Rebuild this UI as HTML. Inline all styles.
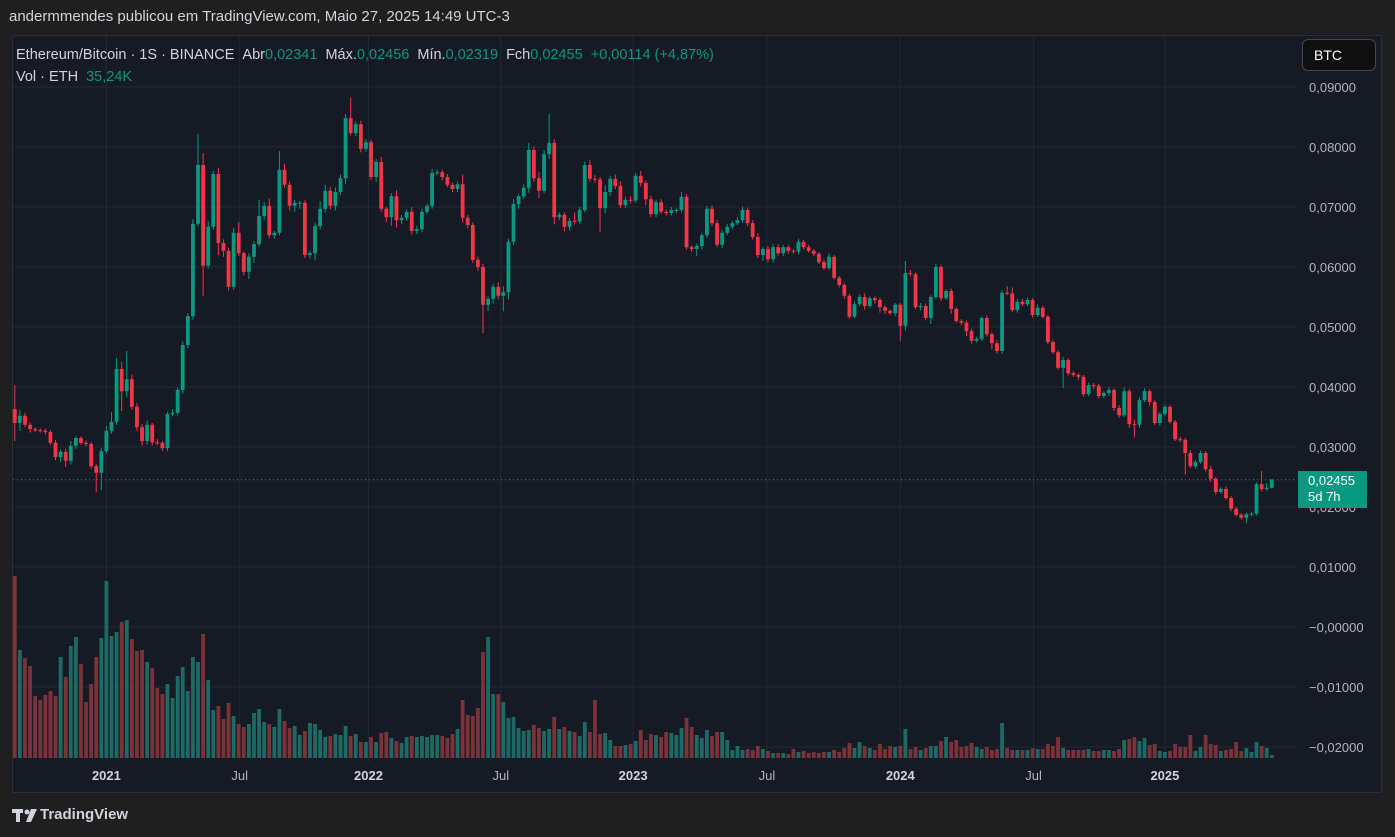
<!DOCTYPE html>
<html><head><meta charset="utf-8">
<style>
html,body{margin:0;padding:0;background:#1f1f1f;width:1395px;height:837px;overflow:hidden;font-family:"Liberation Sans",sans-serif;}
#hdr{position:absolute;left:9px;top:8px;color:#d1d4dc;font-size:15px;}
#panel{position:absolute;left:12px;top:35px;width:1370px;height:758px;background:#161a25;border:1px solid #2a2e39;box-sizing:border-box;}
#legend{position:absolute;left:16px;top:44px;font-size:14.5px;color:#d1d4dc;line-height:22px;}
#legend .v{color:#089981;}
#btc{position:absolute;left:1302px;top:39px;width:74px;height:32px;background:#0f0f0f;border:1px solid #434651;border-radius:6px;box-sizing:border-box;color:#fff;font-size:14px;line-height:30px;padding-left:11px;}
#tag{position:absolute;left:1298px;top:471px;width:69px;height:37px;background:#089981;color:#fff;font-size:13px;line-height:16px;padding:2px 0 0 10px;box-sizing:border-box;}
#foot{position:absolute;left:12px;top:806px;color:#d1d4dc;font-size:15px;font-weight:bold;}
svg{position:absolute;left:0;top:0;}
</style></head>
<body>
<div id="hdr">andermmendes publicou em TradingView.com, Maio 27, 2025 14:49 UTC-3</div>
<div id="panel"></div>
<svg id="chart" width="1395" height="837"></svg>
<div id="legend">
<div>Ethereum/Bitcoin · 1S · BINANCE &nbsp;Abr<span class="v">0,02341</span> &nbsp;Máx.<span class="v">0,02456</span> &nbsp;Mín.<span class="v">0,02319</span> &nbsp;Fch<span class="v">0,02455 &nbsp;+0,00114 (+4,87%)</span></div>
<div>Vol · ETH &nbsp;<span class="v">35,24K</span></div>
</div>
<div id="btc">BTC</div>
<div id="tag">0,02455<br>5d 7h</div>
<div id="foot">
<svg width="26" height="16" style="position:absolute;left:0;top:2px"><rect x="0" y="1" width="11" height="4" fill="#d1d4dc"/><rect x="4" y="1" width="4" height="13" fill="#d1d4dc"/><circle cx="15" cy="4" r="2.5" fill="#d1d4dc"/><polygon points="19,1 25,1 19,14 14,14" fill="#d1d4dc"/></svg>
<span style="position:absolute;left:28px;top:0;white-space:nowrap">TradingView</span></div>
<script>
const closes=[
0.0340,0.0352,0.0337,0.0330,0.0328,0.0327,0.0325,0.0307,0.0283,0.0292,
0.0277,0.0302,0.0315,0.0307,0.0305,0.0268,0.0257,0.0293,0.0327,0.0342,
0.0430,0.0393,0.0413,0.0367,0.0333,0.0310,0.0337,0.0308,0.0307,0.0298,
0.0355,0.0357,0.0395,0.0470,0.0518,0.0672,0.0770,0.0602,0.0667,0.0755,
0.0640,0.0627,0.0567,0.0657,0.0623,0.0592,0.0617,0.0638,0.0685,0.0702,
0.0653,0.0657,0.0762,0.0737,0.0702,0.0707,0.0707,0.0620,0.0623,0.0668,
0.0697,0.0727,0.0702,0.0725,0.0748,0.0848,0.0823,0.0838,0.0797,0.0808,
0.0750,0.0775,0.0697,0.0683,0.0718,0.0678,0.0682,0.0692,0.0660,0.0663,
0.0692,0.0702,0.0757,0.0758,0.0750,0.0737,0.0730,0.0738,0.0682,0.0670,
0.0612,0.0600,0.0537,0.0547,0.0567,0.0552,0.0558,0.0642,0.0705,0.0718,
0.0732,0.0795,0.0748,0.0727,0.0788,0.0807,0.0683,0.0687,0.0667,0.0677,
0.0676,0.0695,0.0770,0.0747,0.0746,0.0698,0.0725,0.0747,0.0735,0.0703,
0.0712,0.0711,0.0752,0.0740,0.0713,0.0688,0.0708,0.0692,0.0690,0.0695,
0.0695,0.0717,0.0633,0.0630,0.0635,0.0653,0.0697,0.0673,0.0637,0.0657,
0.0667,0.0673,0.0678,0.0695,0.0673,0.0650,0.0620,0.0630,0.0613,0.0633,
0.0623,0.0633,0.0627,0.0626,0.0642,0.0633,0.0627,0.0622,0.0608,0.0598,
0.0617,0.0582,0.0570,0.0552,0.0517,0.0538,0.0550,0.0535,0.0548,0.0545,
0.0533,0.0527,0.0523,0.0537,0.0502,0.0590,0.0588,0.0533,0.0535,0.0515,
0.0550,0.0600,0.0548,0.0560,0.0530,0.0510,0.0507,0.0493,0.0477,0.0480,
0.0515,0.0488,0.0473,0.0460,0.0557,0.0556,0.0528,0.0542,0.0538,0.0545,
0.0520,0.0532,0.0517,0.0475,0.0458,0.0432,0.0445,0.0423,0.0420,0.0417,
0.0388,0.0403,0.0402,0.0385,0.0390,0.0395,0.0365,0.0353,0.0393,0.0338,
0.0337,0.0378,0.0393,0.0375,0.0340,0.0355,0.0367,0.0342,0.0313,0.0312,
0.0290,0.0268,0.0275,0.0290,0.0263,0.0247,0.0225,0.0230,0.0215,0.0197,
0.0187,0.0182,0.0188,0.0189,0.0238,0.0230,0.0232,0.02455];
const firstOpen=0.0363;
const wickUp=[
40,10,5,4,3,3,4,3,5,4, 5,8,3,3,4,3,4,5,8,16, 18,12,47,8,6,5,7,3,5,3, 4,6,4,6,5,8,52,20,10,5,
10,6,5,8,18,3,6,5,27,6, 12,3,31,10,5,5,3,4,3,5, 13,10,6,8,6,7,34,4,6,5, 4,5,8,3,5,10,5,4,8,6,
5,4,6,4,4,5,4,5,16,5, 4,5,5,4,5,8,10,5,8,4, 6,12,6,10,7,48,6,4,4,5, 14,5,6,8,6,4,12,5,7,8,
5,6,5,8,4,6,4,5,4,5, 3,8,5,3,4,4,5,6,5,4, 5,4,5,6,4,5,6,3,5,6, 5,4,3,3,5,3,4,3,3,4,
6,3,3,4,3,5,4,6,3,3, 4,3,2,3,3,20,5,3,5,4, 3,5,4,3,4,3,3,4,4,3, 3,4,3,5,4,11,10,5,5,4,
3,6,3,3,4,3,5,3,3,3, 3,4,4,3,3,5,3,5,6,4, 8,5,5,3,3,3,4,3,3,4, 3,5,3,4,3,6,3,3,4,3,
3,3,2,3,3,22,8,1];
const wickDown=[
30,13,4,6,3,3,4,4,5,8, 10,6,5,3,4,4,32,29,4,5, 5,33,10,5,6,8,6,5,4,5, 5,4,4,6,5,6,4,50,5,5,
20,10,6,5,5,6,12,10,4,6, 5,6,4,5,8,10,10,5,6,12, 5,6,6,8,5,10,4,5,6,5, 5,8,5,8,14,12,6,5,6,5,
5,4,5,4,6,4,5,5,8,6, 5,6,47,10,8,6,26,12,5,8, 4,8,6,12,4,8,12,5,8,6, 5,4,4,5,6,40,8,6,5,5,
5,5,4,6,10,5,5,4,4,4, 5,4,4,5,12,6,4,5,4,5, 4,4,3,4,5,4,5,10,5,6, 4,5,5,4,5,4,3,4,3,3,
3,3,4,5,3,3,4,6,3,6, 9,5,3,5,25,8,4,3,5,4, 10,3,5,3,8,3,4,8,5,3, 3,4,10,4,5,3,3,4,3,3,
4,3,3,4,3,3,34,4,3,5, 4,3,5,4,3,5,5,4,3,6, 21,5,3,6,3,5,4,3,3,4, 36,3,4,3,4,5,4,3,3,4,
3,3,9,4,3,4,3,1];
const volumes=[
1820,1080,1000,920,620,580,630,670,620,1010, 810,1120,1210,940,560,740,1010,1200,1770,1220,
1260,1360,1380,1190,1070,1080,960,900,700,640, 740,600,820,910,670,1010,960,1240,780,480,
520,390,550,420,340,310,340,450,490,360, 340,310,490,370,300,320,230,270,350,340,
280,210,220,240,230,320,220,240,160,160, 210,160,250,260,200,170,150,210,220,210,
220,210,230,230,220,200,240,290,580,430, 420,500,1060,1210,640,640,560,400,410,300,
270,280,330,300,270,290,410,290,310,270, 260,220,360,260,580,240,250,180,120,120,
130,140,170,280,180,240,230,210,260,250, 230,300,400,310,230,200,280,220,260,260,
180,80,120,80,90,80,120,90,70,50, 50,50,40,90,60,70,50,60,50,60,
60,80,60,100,150,100,160,120,100,80, 140,90,120,110,120,290,90,110,80,100,
120,120,170,210,160,180,110,120,150,110, 90,110,80,90,350,100,80,80,80,80,
100,90,90,140,120,210,100,80,80,80, 80,90,70,70,80,80,70,90,180,190,
210,170,200,130,140,70,60,70,140,110, 110,230,70,110,230,140,130,70,80,90,
160,70,100,60,160,120,100,30];
const priceTicks=[0.09,0.08,0.07,0.06,0.05,0.04,0.03,0.02,0.01,0,-0.01,-0.02];
const timeLabels=["2021","Jul","2022","Jul","2023","Jul","2024","Jul","2025"];
const timeLabelIdx=[18,44.2,69.5,95.5,121.5,147.8,174,200.2,226];
const lastPrice=0.02455;

const svg=document.getElementById('chart');
const NS='http://www.w3.org/2000/svg';
const xOf=i=>14.8+i*5.089;
const yOf=p=>87+(0.09-p)*6000;
const volBase=758, volScale=0.1;
function mk(t,a){const e=document.createElementNS(NS,t);for(const k in a)e.setAttribute(k,a[k]);svg.appendChild(e);return e;}
const fmt=v=>(v<=0?'\u2212':'')+Math.abs(v).toFixed(5).replace('.',',');

priceTicks.forEach(p=>{
  const g=mk('line',{x1:13,x2:1296,y1:yOf(p),y2:yOf(p),stroke:'#242835','stroke-width':1});
  
  
});
timeLabels.forEach((t,k)=>{
  const x=xOf(timeLabelIdx[k]);
  const g=mk('line',{x1:x,x2:x,y1:36,y2:762,stroke:'#242835','stroke-width':1});
  
  
  const isYear=/^\d/.test(t);
  const tx=mk('text',{x:x,y:780,'text-anchor':'middle',fill:isYear?'#d1d4dc':'#b2b5be','font-size':13,'font-weight':isYear?'bold':'normal','font-family':'Liberation Sans, sans-serif'});
  tx.textContent=t;
  
  
});
closes.forEach((c,i)=>{
  const o=i===0?firstOpen:closes[i-1];
  const up=c>=o;
  const h=volumes[i]*volScale;
  const r=mk('rect',{x:xOf(i)-1.9,y:volBase-h,width:3.8,height:h,fill:up?'#1d6a64':'#7b3238'});
  
  
});
const lp=mk('line',{x1:13,x2:1296,y1:yOf(lastPrice),y2:yOf(lastPrice),stroke:'#089981','stroke-width':1,'stroke-dasharray':'1 3'});


closes.forEach((c,i)=>{
  const o=i===0?firstOpen:closes[i-1];
  const up=c>=o;
  const col=up?'#089981':'#f23645';
  const hi=Math.max(o,c)+wickUp[i]*1e-4, lo=Math.min(o,c)-wickDown[i]*1e-4;
  const x=xOf(i);
  const w=mk('line',{x1:x,x2:x,y1:yOf(hi),y2:yOf(lo),stroke:col,'stroke-width':1});
  
  
  const yt=yOf(Math.max(o,c)), yb=yOf(Math.min(o,c));
  const b=mk('rect',{x:x-1.9,y:yt,width:3.8,height:Math.max(1,yb-yt),fill:col});
  
  
});
priceTicks.forEach(p=>{
  const t=mk('text',{x:1309,y:yOf(p)+5,fill:'#b2b5be','font-size':13,'font-family':'Liberation Sans, sans-serif'});
  t.textContent=fmt(p);
  
  
});
</script>
</body></html>
